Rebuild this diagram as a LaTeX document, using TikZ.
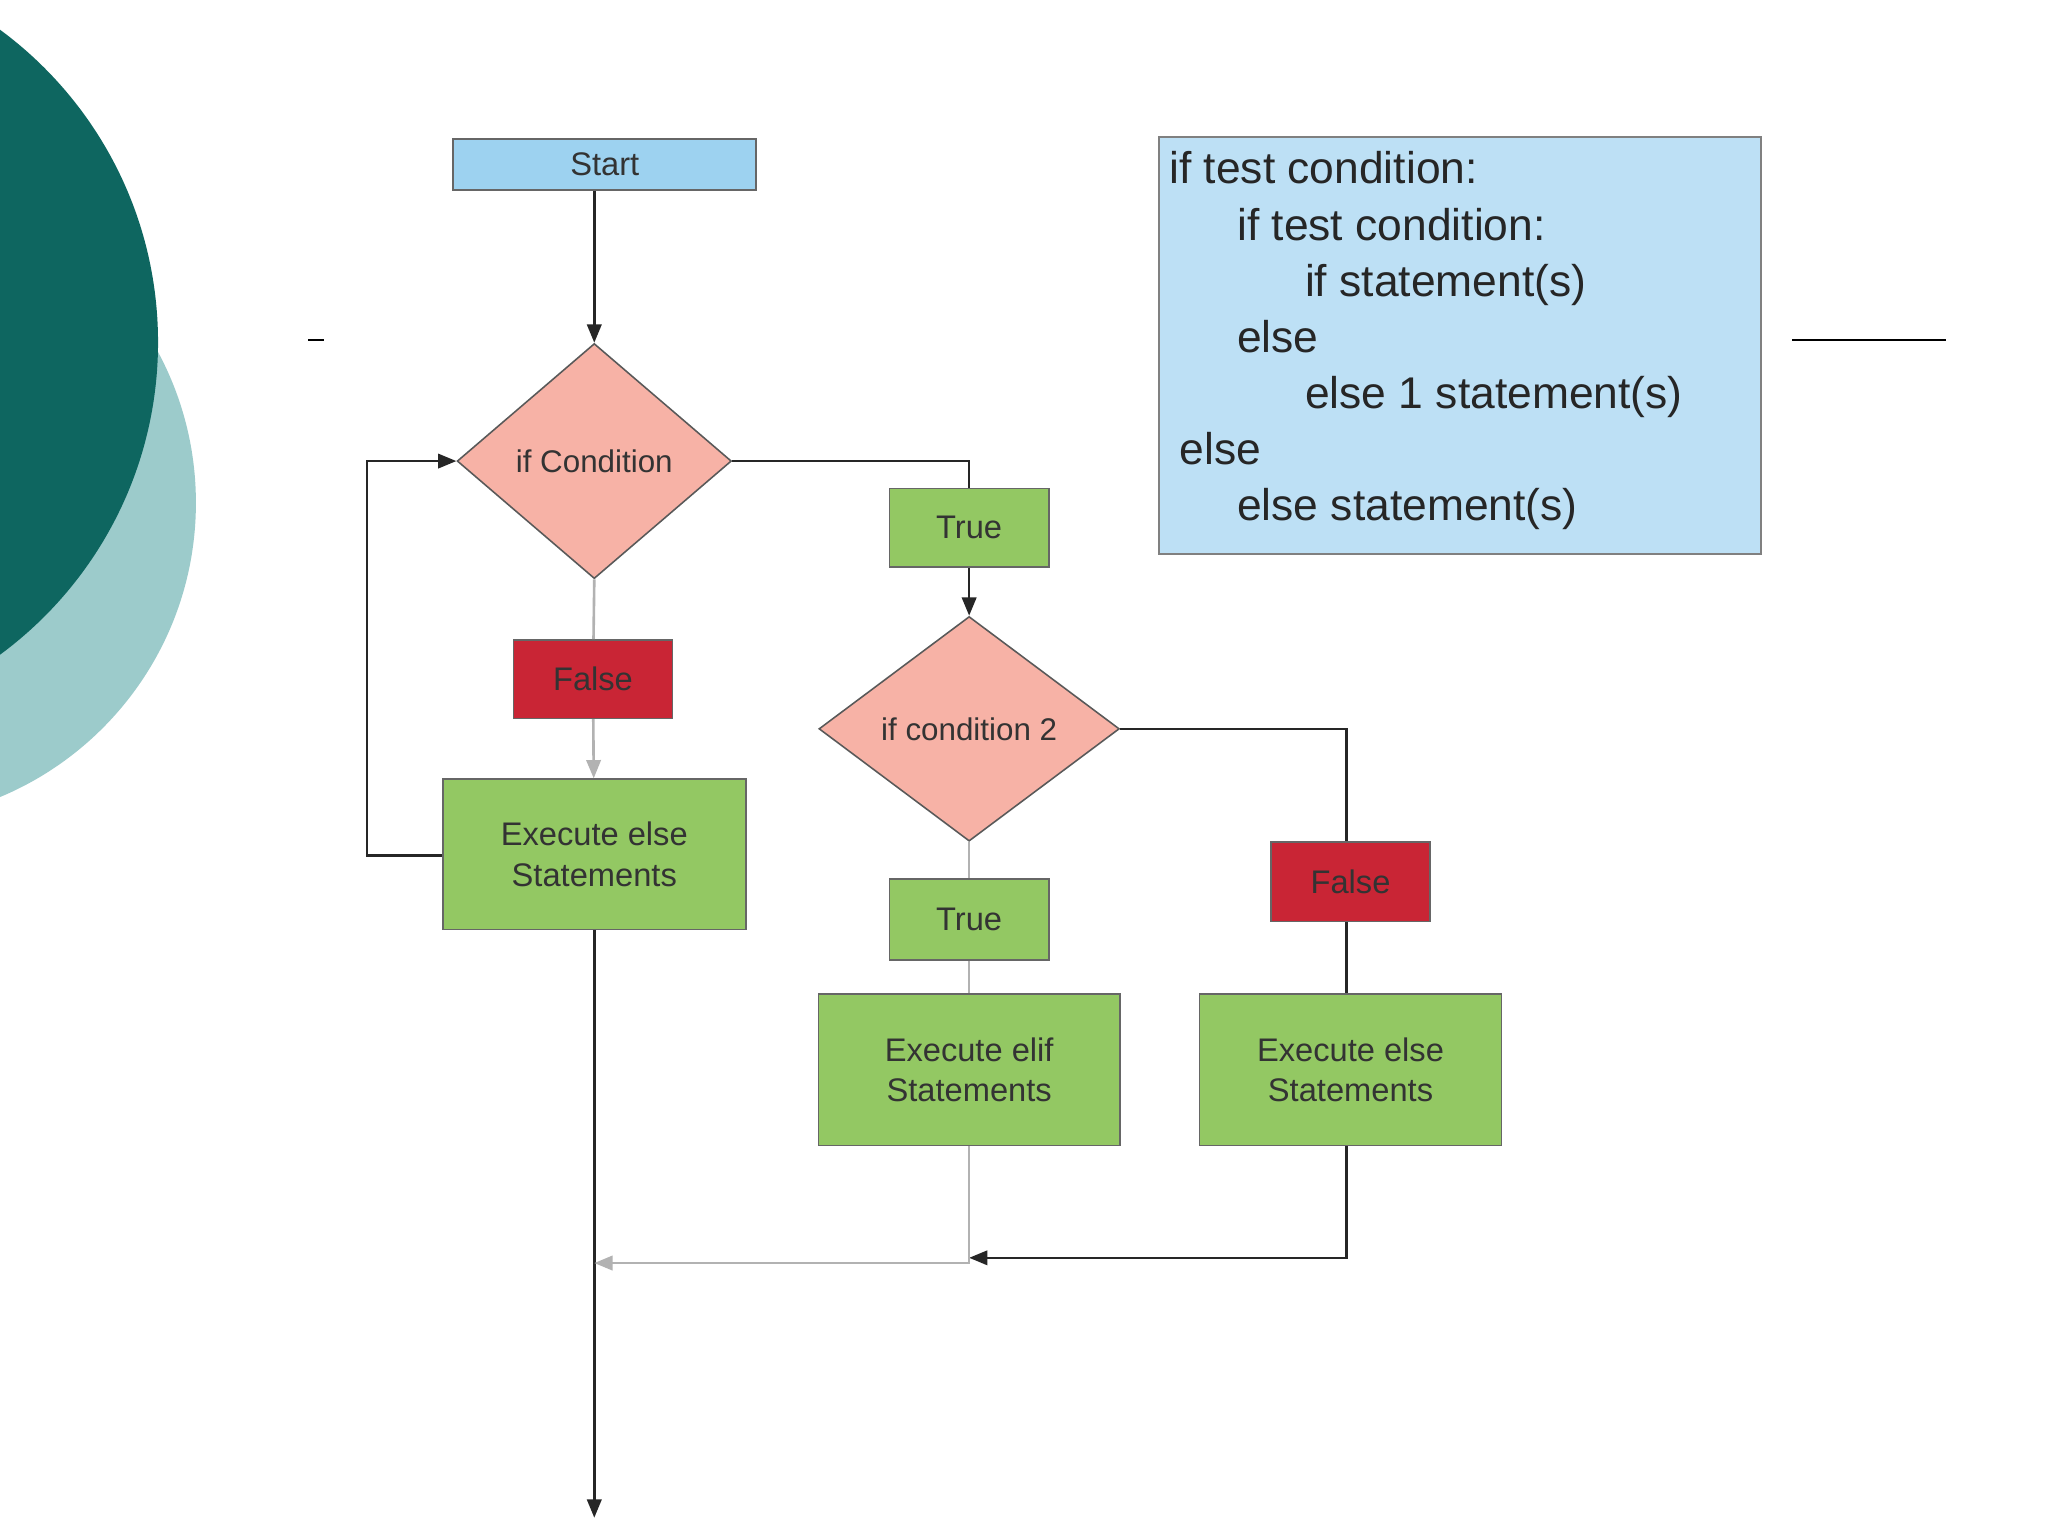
\documentclass[tikz,border=0pt]{standalone}
\usepackage{fontspec}
\setmainfont{Liberation Sans}
\usetikzlibrary{shapes.geometric,arrows.meta}
\definecolor{boxblue}{HTML}{9DD2F0}
\definecolor{codeblue}{HTML}{BDE0F5}
\definecolor{dpink}{HTML}{F7B2A6}
\definecolor{lgreen}{HTML}{93C863}
\definecolor{dred}{HTML}{C92535}
\definecolor{dteal}{HTML}{0E6660}
\definecolor{lteal}{HTML}{9CCBCB}
\begin{document}
\begin{tikzpicture}[x=1pt,y=-1pt,
  box/.style={draw=gray!80!black,line width=1.2pt,inner sep=0,font=\fontsize{25}{31}\selectfont,align=center,text=black!80},
  grn/.style={box,fill=lgreen},
  red/.style={box,fill=dred},
  dia/.style={diamond,draw=gray!70!black,line width=1.2pt,fill=dpink,inner sep=0,font=\fontsize{24}{28}\selectfont,text=black!80},
  con/.style={line width=2pt,black!85},
  gcon/.style={line width=2pt,gray!60},
  arr/.style={-{Triangle[length=14pt,width=11pt]}}]
\useasboundingbox (0,0) rectangle (1568,1176);
\fill[white] (0,0) rectangle (1568,1176);
\fill[lteal] (-94,385) circle (244);
\fill[dteal] (-176,262) circle (297);
\draw[line width=1.5pt] (236,260) -- (248,260);
\draw[line width=1.5pt] (1372,260) -- (1490,260);
\node[box,fill=boxblue,minimum width=232pt,minimum height=39pt] (start) at (463,126) {Start};
\node[dia,minimum width=210pt,minimum height=180pt] (d1) at (455,353) {if Condition};
\node[grn,minimum width=122pt,minimum height=60pt] (t1) at (742,404) {True};
\node[red,minimum width=122pt,minimum height=60pt] (f1) at (454,520) {False};
\node[grn,minimum width=232pt,minimum height=115pt] (e1) at (455,654) {Execute else\\Statements};
\node[dia,minimum width=230pt,minimum height=172pt] (d2) at (742,558) {if condition 2};
\node[grn,minimum width=122pt,minimum height=62pt] (t2) at (742,704) {True};
\node[red,minimum width=122pt,minimum height=61pt] (f2) at (1034,675) {False};
\node[grn,minimum width=231pt,minimum height=116pt] (ei) at (742,819) {Execute elif\\Statements};
\node[grn,minimum width=231pt,minimum height=116pt] (e2) at (1034,819) {Execute else\\Statements};
\node[draw=gray,line width=1.5pt,fill=codeblue,minimum width=461pt,minimum height=319pt,inner sep=0] (code) at (1117.5,264.5) {};
\node[anchor=north west,align=left,inner sep=0,font=\fontsize{34}{43}\selectfont,text=black!85] (codetxt) at (895,116) {%
if test condition:\\
\hspace*{52pt}if test condition:\\
\hspace*{104pt}if statement(s)\\
\hspace*{52pt}else\\
\hspace*{104pt}else 1 statement(s)\\
\hspace*{8pt}else\\
\hspace*{52pt}else statement(s)};
\coordinate (c0) at (455,146);
\coordinate (c1) at (742,353);
\coordinate (c2) at (1031,558);
\coordinate (c3) at (1031,963);
\coordinate (c4) at (742,963);
\coordinate (c5) at (742,967);
\coordinate (c6) at (455,967);
\coordinate (c7) at (281,655);
\coordinate (c8) at (281,353);
\coordinate (endp) at (455,1162);
\draw[con,arr] (c0) -- (d1.north);
\draw[con] (d1.east) -- (c1) -- (t1.north);
\draw[con,arr] (t1) -- (d2.north);
\draw[gcon] (d1.south) -- (f1);
\draw[gcon,arr] (f1) -- (e1);
\draw[con,arr] (e1.west|-c7) -- (c7) -- (c8) -- (d1.west);
\draw[con,arr] (e1.south) -- (endp);
\draw[con] (d2.east) -- (c2) -- (f2.north-|c2);
\draw[con] (f2.south-|c2) -- (e2.north-|c2);
\draw[con,arr] (e2.south-|c3) -- (c3) -- (c4);
\draw[gcon] (d2.south) -- (t2);
\draw[gcon] (t2) -- (ei);
\draw[gcon,arr] (ei.south) -- (c5) -- (c6);
\end{tikzpicture}
\end{document}
